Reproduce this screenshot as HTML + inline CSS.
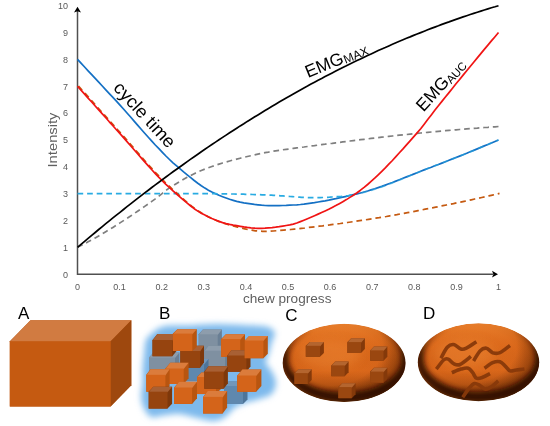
<!DOCTYPE html>
<html><head><meta charset="utf-8"><title>chew progress</title>
<style>
html,body{margin:0;padding:0;background:#fff;}
svg{display:block;font-family:"Liberation Sans",sans-serif;}
</style></head><body>
<svg width="550" height="426" viewBox="0 0 550 426">
<defs>
<radialGradient id="eg" cx="0.46" cy="0.42" r="0.6">
<stop offset="0" stop-color="#DE6C1C"/><stop offset="0.6" stop-color="#D8661A"/><stop offset="0.85" stop-color="#C05610"/><stop offset="1" stop-color="#8A3A08"/>
</radialGradient>
<radialGradient id="er" cx="0.32" cy="0.3" r="0.8">
<stop offset="0.62" stop-color="#2E1000" stop-opacity="0"/><stop offset="1" stop-color="#2E1000" stop-opacity=".6"/>
</radialGradient>
<linearGradient id="ringg" x1="0" y1="0" x2="0" y2="1">
<stop offset="0.12" stop-color="#2E1000" stop-opacity="0"/><stop offset="0.45" stop-color="#2E1000" stop-opacity=".9"/><stop offset="1" stop-color="#2E1000" stop-opacity="1"/>
</linearGradient>
<linearGradient id="ev" x1="0" y1="0" x2="0" y2="1">
<stop offset="0" stop-color="#F59038" stop-opacity=".6"/><stop offset="0.3" stop-color="#E87824" stop-opacity=".15"/><stop offset="0.6" stop-color="#7A3205" stop-opacity="0"/><stop offset="0.88" stop-color="#5A2403" stop-opacity=".45"/><stop offset="1" stop-color="#D06A22" stop-opacity=".3"/>
</linearGradient>
<filter id="bl4" x="-50%" y="-50%" width="200%" height="200%"><feGaussianBlur stdDeviation="5"/></filter>
<filter id="bl3" x="-50%" y="-50%" width="200%" height="200%"><feGaussianBlur stdDeviation="2.6"/></filter>
<filter id="bl25" x="-20%" y="-20%" width="140%" height="140%"><feGaussianBlur stdDeviation="3"/></filter>
<filter id="bl1" x="-50%" y="-50%" width="200%" height="200%"><feGaussianBlur stdDeviation="1"/></filter>
<filter id="glow" x="-20%" y="-20%" width="140%" height="140%">
<feMorphology in="SourceAlpha" operator="dilate" radius="5" result="d"/>
<feGaussianBlur in="d" stdDeviation="3.2" result="b"/>
<feFlood flood-color="#6EB4EA"/><feComposite in2="b" operator="in" result="g"/>
<feMerge><feMergeNode in="g"/><feMergeNode in="SourceGraphic"/></feMerge>
</filter>
<clipPath id="clipC"><ellipse cx="344.1" cy="362.9" rx="61.4" ry="39.1"/></clipPath>
<clipPath id="clipD"><ellipse cx="478.5" cy="362.3" rx="60.7" ry="39"/></clipPath>
</defs>
<rect width="550" height="426" fill="#fff"/>

<!-- axes -->
<g stroke="#505050" stroke-width="1.5" fill="none">
<path d="M77.5 11 V274.2 H493"/>
</g>
<polygon points="77.5,6.8 81,12.6 77.5,11.3 74,12.6" fill="#000"/>
<polygon points="498,274.2 492,270.8 493.4,274.2 492,277.6" fill="#000"/>

<!-- curves -->
<g fill="none" stroke-width="1.7" stroke-linejoin="round">
<path d="M77.5 247.3 L81.0 245.6 L84.6 243.7 L88.1 241.8 L91.7 239.9 L95.2 237.9 L98.7 235.9 L102.3 233.8 L105.8 231.7 L109.3 229.6 L112.9 227.4 L116.4 225.2 L120.0 222.9 L123.5 220.6 L127.0 218.3 L130.6 216.0 L134.1 213.6 L137.6 211.2 L141.2 208.8 L144.7 206.4 L148.3 203.9 L151.8 201.4 L155.3 198.9 L158.9 196.1 L162.4 193.3 L165.9 190.4 L169.5 187.9 L173.0 185.6 L176.6 183.4 L180.1 181.3 L183.6 179.3 L187.2 177.3 L190.7 175.5 L194.2 173.7 L197.8 172.0 L201.3 170.5 L204.9 169.1 L208.4 167.7 L211.9 166.5 L215.5 165.3 L219.0 164.1 L222.6 163.0 L226.1 162.0 L229.6 161.0 L233.2 160.0 L236.7 159.1 L240.2 158.2 L243.8 157.3 L247.3 156.5 L250.9 155.7 L254.4 154.9 L257.9 154.1 L261.5 153.4 L265.0 152.7 L268.5 152.1 L272.1 151.4 L275.6 150.8 L279.2 150.3 L282.7 149.8 L286.2 149.3 L289.8 148.9 L293.3 148.4 L296.8 147.9 L300.4 147.4 L303.9 147.0 L307.5 146.5 L311.0 146.0 L314.5 145.6 L318.1 145.1 L321.6 144.6 L325.1 144.2 L328.7 143.7 L332.2 143.3 L335.8 142.8 L339.3 142.4 L342.8 141.9 L346.4 141.5 L349.9 141.0 L353.4 140.6 L357.0 140.2 L360.5 139.7 L364.1 139.3 L367.6 138.9 L371.1 138.4 L374.7 138.0 L378.2 137.6 L381.8 137.2 L385.3 136.8 L388.8 136.4 L392.4 136.0 L395.9 135.6 L399.4 135.2 L403.0 134.8 L406.5 134.5 L410.1 134.1 L413.6 133.7 L417.1 133.4 L420.7 133.0 L424.2 132.7 L427.7 132.3 L431.3 132.0 L434.8 131.7 L438.4 131.3 L441.9 131.0 L445.4 130.7 L449.0 130.4 L452.5 130.1 L456.0 129.8 L459.6 129.5 L463.1 129.2 L466.7 128.9 L470.2 128.6 L473.7 128.3 L477.3 128.1 L480.8 127.8 L484.3 127.5 L487.9 127.3 L491.4 127.0 L495.0 126.8 L498.5 126.5" stroke="#7F7F7F" stroke-dasharray="5.7 3.9"/>
<path d="M77.5 59.4 L81.0 63.2 L84.6 67.0 L88.1 70.8 L91.7 74.6 L95.2 78.4 L98.7 82.2 L102.3 86.0 L105.8 89.8 L109.3 93.6 L112.9 97.4 L116.4 101.2 L120.0 105.1 L123.5 109.0 L127.0 113.0 L130.6 117.0 L134.1 121.1 L137.6 125.1 L141.2 129.2 L144.7 133.2 L148.3 137.2 L151.8 141.1 L155.3 145.0 L158.9 148.7 L162.4 152.4 L165.9 156.0 L169.5 159.5 L173.0 162.8 L176.6 165.9 L180.1 168.9 L183.6 171.9 L187.2 174.8 L190.7 177.7 L194.2 180.5 L197.8 183.2 L201.3 185.7 L204.9 188.1 L208.4 190.2 L211.9 192.1 L215.5 193.8 L219.0 195.3 L222.6 196.7 L226.1 198.0 L229.6 199.3 L233.2 200.4 L236.7 201.4 L240.2 202.2 L243.8 202.9 L247.3 203.4 L250.9 203.9 L254.4 204.4 L257.9 204.8 L261.5 205.2 L265.0 205.5 L268.5 205.7 L272.1 205.7 L275.6 205.7 L279.2 205.6 L282.7 205.5 L286.2 205.4 L289.8 205.2 L293.3 205.0 L296.8 204.8 L300.4 204.5 L303.9 204.1 L307.5 203.6 L311.0 203.1 L314.5 202.6 L318.1 202.0 L321.6 201.4 L325.1 200.8 L328.7 200.1 L332.2 199.3 L335.8 198.6 L339.3 197.8 L342.8 197.1 L346.4 196.3 L349.9 195.5 L353.4 194.7 L357.0 193.9 L360.5 193.0 L364.1 192.0 L367.6 191.0 L371.1 189.9 L374.7 188.8 L378.2 187.6 L381.8 186.4 L385.3 185.1 L388.8 183.8 L392.4 182.5 L395.9 181.1 L399.4 179.7 L403.0 178.3 L406.5 176.9 L410.1 175.5 L413.6 174.1 L417.1 172.7 L420.7 171.3 L424.2 169.9 L427.7 168.5 L431.3 167.2 L434.8 165.8 L438.4 164.5 L441.9 163.1 L445.4 161.7 L449.0 160.3 L452.5 158.9 L456.0 157.5 L459.6 156.1 L463.1 154.7 L466.7 153.3 L470.2 151.8 L473.7 150.4 L477.3 148.9 L480.8 147.4 L484.3 145.9 L487.9 144.5 L491.4 143.0 L495.0 141.5 L498.5 140.0" stroke="#1470C4"/>
<path d="M77.5 193.6 L79.8 193.6 L82.2 193.6 L84.5 193.6 L86.8 193.6 L89.2 193.6 L91.5 193.6 L93.8 193.6 L96.2 193.6 L98.5 193.6 L100.8 193.6 L103.2 193.6 L105.5 193.6 L107.9 193.6 L110.2 193.6 L112.5 193.6 L114.9 193.6 L117.2 193.6 L119.5 193.6 L121.9 193.6 L124.2 193.6 L126.5 193.6 L128.9 193.6 L131.2 193.6 L133.5 193.6 L135.9 193.6 L138.2 193.6 L140.5 193.6 L142.9 193.6 L145.2 193.6 L147.5 193.6 L149.9 193.6 L152.2 193.6 L154.6 193.6 L156.9 193.6 L159.2 193.6 L161.6 193.6 L163.9 193.6 L166.2 193.6 L168.6 193.6 L170.9 193.6 L173.2 193.6 L175.6 193.6 L177.9 193.6 L180.2 193.6 L182.6 193.6 L184.9 193.6 L187.2 193.6 L189.6 193.6 L191.9 193.6 L194.2 193.6 L196.6 193.6 L198.9 193.6 L201.3 193.6 L203.6 193.6 L205.9 193.7 L208.3 193.7 L210.6 193.7 L212.9 193.7 L215.3 193.7 L217.6 193.8 L219.9 193.8 L222.3 193.8 L224.6 193.9 L226.9 193.9 L229.3 193.9 L231.6 194.0 L233.9 194.0 L236.3 194.1 L238.6 194.1 L240.9 194.2 L243.3 194.2 L245.6 194.3 L248.0 194.3 L250.3 194.4 L252.6 194.5 L255.0 194.6 L257.3 194.6 L259.6 194.7 L262.0 194.8 L264.3 194.9 L266.6 195.0 L269.0 195.1 L271.3 195.2 L273.6 195.3 L276.0 195.5 L278.3 195.6 L280.6 195.8 L283.0 195.9 L285.3 196.1 L287.6 196.3 L290.0 196.5 L292.3 196.6 L294.7 196.8 L297.0 197.0 L299.3 197.1 L301.7 197.3 L304.0 197.4 L306.3 197.5 L308.7 197.6 L311.0 197.6 L313.3 197.7 L315.7 197.7 L318.0 197.7 L320.3 197.6 L322.7 197.5 L325.0 197.4 L327.3 197.3 L329.7 197.2 L332.0 197.0 L334.3 196.9 L336.7 196.7 L339.0 196.6 L341.4 196.4 L343.7 196.1 L346.0 195.8 L348.4 195.5 L350.7 195.1 L353.0 194.7 L355.4 194.3" stroke="#29ABE2" stroke-dasharray="5.7 3.9"/>
<path d="M361.7 193.0 L364.0 192.4 L366.3 191.8 L368.6 191.1 L371.0 190.5 L373.3 189.8 L375.6 189.0 L377.9 188.2 L380.2 187.4 L382.5 186.6 L384.9 185.8 L387.2 184.9 L389.5 184.0 L391.8 183.1 L394.1 182.2 L396.5 181.3 L398.8 180.3 L401.1 179.4 L403.4 178.4 L405.7 177.5 L408.1 176.5 L410.4 175.5 L412.7 174.6 L415.0 173.6 L417.3 172.7 L419.7 171.7 L422.0 170.8 L424.3 169.9 L426.6 169.0 L428.9 168.1 L431.2 167.2 L433.6 166.3 L435.9 165.4 L438.2 164.5 L440.5 163.6 L442.8 162.7 L445.2 161.8 L447.5 160.9 L449.8 160.0 L452.1 159.1 L454.4 158.2 L456.8 157.2 L459.1 156.3 L461.4 155.4 L463.7 154.5 L466.0 153.5 L468.4 152.6 L470.7 151.6 L473.0 150.7 L475.3 149.7 L477.6 148.7 L479.9 147.8 L482.3 146.8 L484.6 145.8 L486.9 144.9 L489.2 143.9 L491.5 142.9 L493.9 141.9 L496.2 140.9 L498.5 140.0" stroke="#29ABE2" stroke-dasharray="5.7 3.9" opacity=".55"/>
<path d="M77.5 86.2 L81.0 90.2 L84.6 94.1 L88.1 98.1 L91.7 102.0 L95.2 106.0 L98.7 109.9 L102.3 113.9 L105.8 117.8 L109.3 121.8 L112.9 125.7 L116.4 129.7 L120.0 133.6 L123.5 137.6 L127.0 141.6 L130.6 145.7 L134.1 149.8 L137.6 153.8 L141.2 157.9 L144.7 161.9 L148.3 165.9 L151.8 169.8 L155.3 173.6 L158.9 177.3 L162.4 180.9 L165.9 184.4 L169.5 187.7 L173.0 190.9 L176.6 194.1 L180.1 197.2 L183.6 200.4 L187.2 203.4 L190.7 206.3 L194.2 209.0 L197.8 211.5 L201.3 213.7 L204.9 215.7 L208.4 217.5 L211.9 219.1 L215.5 220.7 L219.0 222.1 L222.6 223.4 L226.1 224.5 L229.6 225.5 L233.2 226.4 L236.7 227.3 L240.2 228.2 L243.8 229.0 L247.3 229.8 L250.9 230.4 L254.4 231.0 L257.9 231.3 L261.5 231.5 L265.0 231.5 L268.5 231.4 L272.1 231.2 L275.6 230.9 L279.2 230.6 L282.7 230.3 L286.2 230.0 L289.8 229.7 L293.3 229.3 L296.8 229.0 L300.4 228.6 L303.9 228.2 L307.5 227.7 L311.0 227.3 L314.5 226.9 L318.1 226.4 L321.6 226.0 L325.1 225.5 L328.7 225.1 L332.2 224.6 L335.8 224.1 L339.3 223.7 L342.8 223.2 L346.4 222.7 L349.9 222.2 L353.4 221.7 L357.0 221.1 L360.5 220.6 L364.1 220.1 L367.6 219.5 L371.1 219.0 L374.7 218.4 L378.2 217.9 L381.8 217.3 L385.3 216.7 L388.8 216.0 L392.4 215.4 L395.9 214.8 L399.4 214.1 L403.0 213.5 L406.5 212.8 L410.1 212.2 L413.6 211.5 L417.1 210.8 L420.7 210.1 L424.2 209.4 L427.7 208.8 L431.3 208.1 L434.8 207.4 L438.4 206.7 L441.9 205.9 L445.4 205.2 L449.0 204.5 L452.5 203.8 L456.0 203.0 L459.6 202.3 L463.1 201.5 L466.7 200.8 L470.2 200.0 L473.7 199.2 L477.3 198.5 L480.8 197.7 L484.3 196.9 L487.9 196.1 L491.4 195.3 L495.0 194.5 L498.5 193.6" stroke="#C55A11" stroke-dasharray="5.7 3.9" transform="translate(1.0 -0.2)"/>
<path d="M77.5 86.2 L81.0 90.2 L84.6 94.1 L88.1 98.1 L91.7 102.0 L95.2 106.0 L98.7 109.9 L102.3 113.9 L105.8 117.8 L109.3 121.8 L112.9 125.7 L116.4 129.7 L120.0 133.6 L123.5 137.6 L127.0 141.6 L130.6 145.7 L134.1 149.8 L137.6 153.8 L141.2 157.9 L144.7 161.9 L148.3 165.9 L151.8 169.8 L155.3 173.6 L158.9 177.3 L162.4 180.9 L165.9 184.4 L169.5 187.7 L173.0 190.8 L176.6 194.0 L180.1 197.1 L183.6 200.2 L187.2 203.2 L190.7 206.0 L194.2 208.7 L197.8 211.1 L201.3 213.3 L204.9 215.1 L208.4 216.9 L211.9 218.5 L215.5 220.0 L219.0 221.4 L222.6 222.6 L226.1 223.6 L229.6 224.4 L233.2 225.1 L236.7 225.7 L240.2 226.3 L243.8 226.9 L247.3 227.4 L250.9 227.8 L254.4 228.1 L257.9 228.3 L261.5 228.3 L265.0 228.2 L268.5 227.9 L272.1 227.6 L275.6 227.2 L279.2 226.7 L282.7 226.1 L286.2 225.5 L289.8 224.9 L293.3 224.1 L296.8 223.0 L300.4 221.6 L303.9 220.2 L307.5 218.7 L311.0 217.2 L314.5 215.7 L318.1 214.1 L321.6 212.5 L325.1 210.9 L328.7 209.2 L332.2 207.4 L335.8 205.6 L339.3 203.7 L342.8 201.7 L346.4 199.6 L349.9 197.4 L353.4 195.2 L357.0 192.8 L360.5 190.2 L364.1 187.4 L367.6 184.5 L371.1 181.4 L374.7 178.2 L378.2 174.9 L381.8 171.4 L385.3 167.9 L388.8 164.2 L392.4 160.5 L395.9 156.7 L399.4 152.8 L403.0 148.9 L406.5 144.9 L410.1 140.9 L413.6 136.9 L417.1 132.9 L420.7 128.7 L424.2 124.2 L427.7 119.5 L431.3 114.9 L434.8 110.3 L438.4 105.8 L441.9 101.4 L445.4 97.0 L449.0 92.6 L452.5 88.2 L456.0 83.8 L459.6 79.5 L463.1 75.1 L466.7 70.8 L470.2 66.5 L473.7 62.2 L477.3 57.9 L480.8 53.6 L484.3 49.4 L487.9 45.1 L491.4 40.9 L495.0 36.7 L498.5 32.5" stroke="#F01414"/>
<path d="M77.5 247.3 L81.0 244.4 L84.6 241.4 L88.1 238.4 L91.7 235.4 L95.2 232.5 L98.7 229.5 L102.3 226.6 L105.8 223.7 L109.3 220.8 L112.9 217.9 L116.4 215.1 L120.0 212.3 L123.5 209.5 L127.0 206.7 L130.6 203.9 L134.1 201.1 L137.6 198.4 L141.2 195.6 L144.7 192.9 L148.3 190.2 L151.8 187.5 L155.3 184.9 L158.9 182.2 L162.4 179.6 L165.9 177.0 L169.5 174.4 L173.0 171.8 L176.6 169.2 L180.1 166.7 L183.6 164.2 L187.2 161.6 L190.7 159.1 L194.2 156.7 L197.8 154.2 L201.3 151.7 L204.9 149.3 L208.4 146.9 L211.9 144.5 L215.5 142.1 L219.0 139.8 L222.6 137.4 L226.1 135.1 L229.6 132.8 L233.2 130.5 L236.7 128.2 L240.2 125.9 L243.8 123.7 L247.3 121.4 L250.9 119.2 L254.4 117.0 L257.9 114.9 L261.5 112.7 L265.0 110.5 L268.5 108.4 L272.1 106.3 L275.6 104.2 L279.2 102.1 L282.7 100.1 L286.2 98.0 L289.8 96.0 L293.3 94.0 L296.8 92.0 L300.4 90.0 L303.9 88.0 L307.5 86.1 L311.0 84.1 L314.5 82.2 L318.1 80.3 L321.6 78.5 L325.1 76.6 L328.7 74.7 L332.2 72.9 L335.8 71.1 L339.3 69.3 L342.8 67.5 L346.4 65.8 L349.9 64.0 L353.4 62.3 L357.0 60.6 L360.5 58.9 L364.1 57.2 L367.6 55.5 L371.1 53.9 L374.7 52.2 L378.2 50.6 L381.8 49.0 L385.3 47.5 L388.8 45.9 L392.4 44.3 L395.9 42.8 L399.4 41.3 L403.0 39.8 L406.5 38.3 L410.1 36.9 L413.6 35.4 L417.1 34.0 L420.7 32.6 L424.2 31.2 L427.7 29.8 L431.3 28.4 L434.8 27.1 L438.4 25.8 L441.9 24.4 L445.4 23.1 L449.0 21.9 L452.5 20.6 L456.0 19.4 L459.6 18.1 L463.1 16.9 L466.7 15.7 L470.2 14.5 L473.7 13.4 L477.3 12.2 L480.8 11.1 L484.3 10.0 L487.9 8.9 L491.4 7.8 L495.0 6.8 L498.5 5.7" stroke="#000"/>
</g>

<!-- tick labels -->
<g font-size="9px" fill="#595959"><text x="68" y="277.5" text-anchor="end">0</text><text x="68" y="250.7" text-anchor="end">1</text><text x="68" y="223.8" text-anchor="end">2</text><text x="68" y="196.9" text-anchor="end">3</text><text x="68" y="170.1" text-anchor="end">4</text><text x="68" y="143.2" text-anchor="end">5</text><text x="68" y="116.4" text-anchor="end">6</text><text x="68" y="89.5" text-anchor="end">7</text><text x="68" y="62.7" text-anchor="end">8</text><text x="68" y="35.8" text-anchor="end">9</text><text x="68" y="9.0" text-anchor="end">10</text><text x="77.5" y="290.3" text-anchor="middle">0</text><text x="119.6" y="290.3" text-anchor="middle">0.1</text><text x="161.7" y="290.3" text-anchor="middle">0.2</text><text x="203.8" y="290.3" text-anchor="middle">0.3</text><text x="245.9" y="290.3" text-anchor="middle">0.4</text><text x="288.0" y="290.3" text-anchor="middle">0.5</text><text x="330.1" y="290.3" text-anchor="middle">0.6</text><text x="372.2" y="290.3" text-anchor="middle">0.7</text><text x="414.3" y="290.3" text-anchor="middle">0.8</text><text x="456.4" y="290.3" text-anchor="middle">0.9</text><text x="498.5" y="290.3" text-anchor="middle">1</text></g>
<text transform="translate(57.2 140) rotate(-90)" font-size="13.5px" fill="#606060" text-anchor="middle" textLength="55" lengthAdjust="spacingAndGlyphs">Intensity</text>
<text x="287.2" y="303.2" font-size="13.5px" fill="#606060" text-anchor="middle" textLength="88.5" lengthAdjust="spacingAndGlyphs">chew progress</text>

<!-- curve labels -->
<text transform="translate(112.6 88.6) rotate(47.5)" font-size="18px" fill="#000" textLength="82" lengthAdjust="spacingAndGlyphs">cycle time</text>
<g transform="translate(308 77.9) rotate(-22.4)" fill="#000"><text font-size="17.5px">EMG</text><text x="40" y="1.2" font-size="12px">MAX</text></g>
<g transform="translate(423.4 112.4) rotate(-47.6)" fill="#000"><text font-size="17.5px">EMG</text><text x="39.5" y="1.6" font-size="11.5px">AUC</text></g>

<!-- panel letters -->
<g font-size="17px" fill="#000">
<text x="18" y="318.9">A</text>
<text x="159" y="318.9">B</text>
<text x="285.3" y="320.9">C</text>
<text x="423" y="318.9">D</text>
</g>

<!-- A cuboid -->
<polygon points="9.8,341.3 30.5,320.2 131.3,320.2 131.3,385.3 110.6,406.5 9.8,406.5" fill="#B8530F"/>
<polygon points="9.8,341.8 30.5,320.2 131.3,320.2 110.6,341.8" fill="#D17B41"/>
<polygon points="110.6,341.3 131.3,320.2 131.3,385.3 110.6,406.5" fill="#9E480E"/>
<rect x="9.8" y="341.3" width="100.8" height="65.2" fill="#C55A11"/>

<!-- B cubes with glow -->
<path d="M148.4 336.7 C151.2 334.1 156.0 328.6 162.7 326.7 C169.4 324.8 179.5 325.9 188.6 325.4 C197.7 325.0 207.6 324.1 217.1 324.1 C226.7 324.1 237.7 324.9 245.8 325.3 C253.9 325.7 261.1 325.5 265.9 326.6 C270.7 327.8 273.7 329.7 274.7 332.3 C275.6 335.0 272.6 338.9 271.6 342.5 C270.6 346.0 269.6 350.6 268.7 353.9 C267.7 357.3 265.2 359.7 265.7 362.6 C266.2 365.5 269.8 367.8 271.5 371.1 C273.2 374.5 275.9 378.7 275.9 382.6 C275.9 386.4 274.7 391.2 271.5 394.1 C268.4 397.0 261.4 398.3 257.1 399.7 C252.8 401.1 249.4 401.1 245.6 402.5 C241.8 403.9 237.4 405.7 234.1 408.1 C230.8 410.5 228.9 414.5 225.6 416.7 C222.3 418.8 219.0 420.8 214.3 421.0 C209.5 421.3 202.9 419.3 197.2 418.1 C191.5 416.9 185.8 414.3 180.1 413.9 C174.4 413.5 167.6 415.0 162.7 415.5 C157.9 416.1 154.3 418.2 151.2 417.0 C148.1 415.8 145.7 411.8 144.0 408.4 C142.3 405.1 141.4 401.3 141.1 397.0 C140.9 392.7 142.4 387.4 142.6 382.6 C142.8 377.8 142.4 373.1 142.6 368.3 C142.8 363.5 143.6 358.2 144.1 353.9 C144.5 349.6 144.7 345.3 145.4 342.4 C146.1 339.6 145.5 339.3 148.4 336.7Z" fill="#7DB9EC" filter="url(#bl25)"/>
<g><polygon points="198.7,334.3 202.9,329.5 221.9,329.5 221.9,345.9 217.7,350.7 198.7,350.7" fill="#6A7F94"/><polygon points="198.7,334.9 202.9,329.5 221.9,329.5 217.7,334.9" fill="#8E9DAC"/><rect x="198.7" y="334.3" width="19.0" height="16.4" fill="#7F90A1"/><polygon points="149.0,357.5 153.5,352.5 179.5,352.5 179.5,369.0 175.0,374.0 149.0,374.0" fill="#6A7F94"/><polygon points="149.0,358.1 153.5,352.5 179.5,352.5 175.0,358.1" fill="#8E9DAC"/><rect x="149.0" y="357.5" width="26.0" height="16.5" fill="#7F90A1"/><polygon points="204.1,350.7 208.6,345.7 229.7,345.7 229.7,362.7 225.2,367.7 204.1,367.7" fill="#6A7F94"/><polygon points="204.1,351.3 208.6,345.7 229.7,345.7 225.2,351.3" fill="#8E9DAC"/><rect x="204.1" y="350.7" width="21.1" height="17.0" fill="#7F90A1"/><polygon points="186.0,364.0 190.5,359.0 208.5,359.0 208.5,376.0 204.0,381.0 186.0,381.0" fill="#4E7599"/><polygon points="186.0,364.6 190.5,359.0 208.5,359.0 204.0,364.6" fill="#7297BA"/><rect x="186.0" y="364.0" width="18.0" height="17.0" fill="#5F88AE"/><polygon points="224.0,386.0 228.5,381.5 247.5,381.5 247.5,399.5 243.0,404.0 224.0,404.0" fill="#4E7599"/><polygon points="224.0,386.6 228.5,381.5 247.5,381.5 243.0,386.6" fill="#7297BA"/><rect x="224.0" y="386.0" width="19.0" height="18.0" fill="#5F88AE"/><polygon points="152.5,340.0 157.4,334.0 177.2,334.0 177.2,350.2 172.3,356.2 152.5,356.2" fill="#7E380B"/><polygon points="152.5,340.6 157.4,334.0 177.2,334.0 172.3,340.6" fill="#A86034"/><rect x="152.5" y="340.0" width="19.8" height="16.2" fill="#96440F"/><polygon points="180.3,351.0 184.2,345.8 204.0,345.8 204.0,362.6 200.1,367.8 180.3,367.8" fill="#7E380B"/><polygon points="180.3,351.6 184.2,345.8 204.0,345.8 200.1,351.6" fill="#A86034"/><rect x="180.3" y="351.0" width="19.8" height="16.8" fill="#96440F"/><polygon points="197.0,377.0 201.5,372.4 220.5,372.4 220.5,389.5 216.0,394.1 197.0,394.1" fill="#B85510"/><polygon points="197.0,377.6 201.5,372.4 220.5,372.4 216.0,377.6" fill="#DB7C3C"/><rect x="197.0" y="377.0" width="19.0" height="17.1" fill="#D4641A"/><polygon points="172.9,333.6 177.4,329.3 196.8,329.3 196.8,346.7 192.3,351.0 172.9,351.0" fill="#B85510"/><polygon points="172.9,334.2 177.4,329.3 196.8,329.3 192.3,334.2" fill="#DB7C3C"/><rect x="172.9" y="333.6" width="19.4" height="17.4" fill="#D4641A"/><polygon points="221.1,339.1 225.9,334.3 245.0,334.3 245.0,352.0 240.2,356.8 221.1,356.8" fill="#B85510"/><polygon points="221.1,339.7 225.9,334.3 245.0,334.3 240.2,339.7" fill="#DB7C3C"/><rect x="221.1" y="339.1" width="19.1" height="17.7" fill="#D4641A"/><polygon points="227.3,355.5 231.4,350.3 250.5,350.3 250.5,366.6 246.4,371.8 227.3,371.8" fill="#7E380B"/><polygon points="227.3,356.1 231.4,350.3 250.5,350.3 246.4,356.1" fill="#A86034"/><rect x="227.3" y="355.5" width="19.1" height="16.3" fill="#96440F"/><polygon points="244.7,340.5 249.1,336.1 267.8,336.1 267.8,353.8 263.4,358.2 244.7,358.2" fill="#B85510"/><polygon points="244.7,341.1 249.1,336.1 267.8,336.1 263.4,341.1" fill="#DB7C3C"/><rect x="244.7" y="340.5" width="18.7" height="17.7" fill="#D4641A"/><polygon points="165.4,368.5 170.3,362.8 188.6,362.8 188.6,378.3 183.7,384.0 165.4,384.0" fill="#B85510"/><polygon points="165.4,369.1 170.3,362.8 188.6,362.8 183.7,369.1" fill="#DB7C3C"/><rect x="165.4" y="368.5" width="18.3" height="15.5" fill="#D4641A"/><polygon points="146.3,374.8 150.5,369.2 169.6,369.2 169.6,386.1 165.4,391.7 146.3,391.7" fill="#B85510"/><polygon points="146.3,375.4 150.5,369.2 169.6,369.2 165.4,375.4" fill="#DB7C3C"/><rect x="146.3" y="374.8" width="19.1" height="16.9" fill="#D4641A"/><polygon points="148.7,391.7 153.3,386.8 172.1,386.8 172.1,403.7 167.5,408.6 148.7,408.6" fill="#7E380B"/><polygon points="148.7,392.3 153.3,386.8 172.1,386.8 167.5,392.3" fill="#A86034"/><rect x="148.7" y="391.7" width="18.8" height="16.9" fill="#96440F"/><polygon points="174.1,387.5 179.0,381.8 197.0,381.8 197.0,398.2 192.1,403.9 174.1,403.9" fill="#B85510"/><polygon points="174.1,388.1 179.0,381.8 197.0,381.8 192.1,388.1" fill="#DB7C3C"/><rect x="174.1" y="387.5" width="18.0" height="16.4" fill="#D4641A"/><polygon points="204.3,371.6 208.5,366.2 227.9,366.2 227.9,383.3 223.7,388.7 204.3,388.7" fill="#7E380B"/><polygon points="204.3,372.2 208.5,366.2 227.9,366.2 223.7,372.2" fill="#A86034"/><rect x="204.3" y="371.6" width="19.4" height="17.1" fill="#96440F"/><polygon points="237.2,375.5 242.4,369.6 261.4,369.6 261.4,385.9 256.2,391.8 237.2,391.8" fill="#B85510"/><polygon points="237.2,376.1 242.4,369.6 261.4,369.6 256.2,376.1" fill="#DB7C3C"/><rect x="237.2" y="375.5" width="19.0" height="16.3" fill="#D4641A"/><polygon points="203.1,396.9 207.6,391.0 227.1,391.0 227.1,407.6 222.6,413.5 203.1,413.5" fill="#B85510"/><polygon points="203.1,397.5 207.6,391.0 227.1,391.0 222.6,397.5" fill="#DB7C3C"/><rect x="203.1" y="396.9" width="19.5" height="16.6" fill="#D4641A"/></g>

<!-- C ellipsoid -->

<g clip-path="url(#clipC)">
<ellipse cx="344.1" cy="362.9" rx="61.4" ry="39.1" fill="url(#eg)"/>
<ellipse cx="344.1" cy="362.9" rx="61.4" ry="39.1" fill="url(#ev)"/>
<ellipse cx="344.1" cy="362.9" rx="61.4" ry="39.1" fill="url(#er)"/>
<ellipse cx="330.1" cy="353.9" rx="30.7" ry="14.076" fill="#EE8838" opacity=".4" filter="url(#bl4)"/>
<ellipse cx="345.1" cy="358.4" rx="60.9" ry="39.1" fill="none" stroke="url(#ringg)" stroke-width="9" opacity=".95" filter="url(#bl3)"/>
</g>
<polygon points="305.8,345.8 309.7,341.9 323.9,341.9 323.9,352.9 320.0,356.8 305.8,356.8" fill="#84390A"/><polygon points="305.8,346.4 309.7,341.9 323.9,341.9 320.0,346.4" fill="#B4652F"/><rect x="305.8" y="345.8" width="14.2" height="11.0" fill="#9A4710"/><polygon points="347.4,342.1 351.3,338.2 364.9,338.2 364.9,349.1 361.0,353.0 347.4,353.0" fill="#84390A"/><polygon points="347.4,342.7 351.3,338.2 364.9,338.2 361.0,342.7" fill="#B4652F"/><rect x="347.4" y="342.1" width="13.6" height="10.9" fill="#9A4710"/><polygon points="370.1,350.4 374.0,346.5 387.4,346.5 387.4,356.8 383.5,360.7 370.1,360.7" fill="#84390A"/><polygon points="370.1,351.0 374.0,346.5 387.4,346.5 383.5,351.0" fill="#B4652F"/><rect x="370.1" y="350.4" width="13.4" height="10.3" fill="#9A4710"/><polygon points="331.3,365.4 335.2,361.5 348.6,361.5 348.6,372.3 344.7,376.2 331.3,376.2" fill="#84390A"/><polygon points="331.3,366.0 335.2,361.5 348.6,361.5 344.7,366.0" fill="#B4652F"/><rect x="331.3" y="365.4" width="13.4" height="10.8" fill="#9A4710"/><polygon points="294.4,373.2 298.3,369.3 311.7,369.3 311.7,380.1 307.8,384.0 294.4,384.0" fill="#84390A"/><polygon points="294.4,373.8 298.3,369.3 311.7,369.3 307.8,373.8" fill="#B4652F"/><rect x="294.4" y="373.2" width="13.4" height="10.8" fill="#9A4710"/><polygon points="370.1,371.6 374.0,367.7 387.4,367.7 387.4,378.8 383.5,382.7 370.1,382.7" fill="#84390A"/><polygon points="370.1,372.2 374.0,367.7 387.4,367.7 383.5,372.2" fill="#B4652F"/><rect x="370.1" y="371.6" width="13.4" height="11.1" fill="#9A4710"/><polygon points="338.3,387.1 342.2,383.2 355.6,383.2 355.6,394.3 351.7,398.2 338.3,398.2" fill="#84390A"/><polygon points="338.3,387.7 342.2,383.2 355.6,383.2 351.7,387.7" fill="#B4652F"/><rect x="338.3" y="387.1" width="13.4" height="11.1" fill="#9A4710"/>

<!-- D ellipsoid -->

<g clip-path="url(#clipD)">
<ellipse cx="478.5" cy="362.3" rx="60.7" ry="39" fill="url(#eg)"/>
<ellipse cx="478.5" cy="362.3" rx="60.7" ry="39" fill="url(#ev)"/>
<ellipse cx="478.5" cy="362.3" rx="60.7" ry="39" fill="url(#er)"/>
<ellipse cx="464.5" cy="353.3" rx="30.35" ry="14.04" fill="#EE8838" opacity=".4" filter="url(#bl4)"/>
<ellipse cx="479.5" cy="357.8" rx="60.2" ry="39" fill="none" stroke="url(#ringg)" stroke-width="9" opacity=".95" filter="url(#bl3)"/>
</g>
<g fill="none" stroke="#88390A" stroke-width="3.6" stroke-linecap="butt" stroke-linejoin="round" opacity=".95"><path d="M440.9 358.2 C442.0 356.4 445.2 349.6 447.3 347.3 C449.4 345.0 451.3 344.2 453.6 344.5 C455.9 344.8 458.8 348.5 460.9 349.1 C463.0 349.7 463.8 349.4 466.4 348.2 C469.0 347.0 474.7 342.9 476.4 341.8"/><path d="M436.4 369.1 C437.6 367.6 441.6 361.7 443.6 360.0 C445.6 358.3 446.5 358.5 448.2 359.1 C449.9 359.7 451.6 362.7 453.6 363.6 C455.6 364.5 457.1 365.7 460.0 364.5 C462.9 363.3 469.1 357.8 470.9 356.4"/><path d="M473.6 360.9 C474.7 359.2 477.9 353.0 480.0 350.9 C482.1 348.8 484.3 347.9 486.4 348.2 C488.5 348.5 490.4 351.9 492.7 352.7 C495.0 353.4 497.1 353.9 500.0 352.7 C502.9 351.5 508.3 346.7 510.0 345.5"/><path d="M484.5 368.2 C485.9 367.3 490.1 363.8 492.7 362.7 C495.3 361.6 497.9 361.2 500.0 361.8 C502.1 362.4 503.8 364.9 505.5 366.4 C507.2 367.9 508.2 370.3 510.0 370.9 C511.8 371.5 514.0 370.3 516.4 370.0 C518.8 369.7 523.1 369.2 524.5 369.0"/><path d="M451.8 372.7 C453.3 372.1 458.2 369.9 460.9 369.1 C463.6 368.4 466.2 367.6 468.2 368.2 C470.2 368.8 471.3 371.0 472.7 372.7 C474.1 374.4 474.7 377.4 476.4 378.2 C478.1 379.0 480.4 378.1 482.7 377.3 C485.0 376.5 488.8 374.2 490.0 373.6"/><path d="M462.7 397.3 C463.8 395.8 467.1 390.5 469.1 388.2 C471.1 385.9 472.7 384.1 474.5 383.6 C476.3 383.2 478.2 384.6 480.0 385.5 C481.8 386.4 483.5 389.0 485.5 389.1 C487.5 389.2 489.7 387.8 491.8 386.4 C493.9 385.0 497.1 381.8 498.2 380.9"/></g>
</svg>
</body></html>
